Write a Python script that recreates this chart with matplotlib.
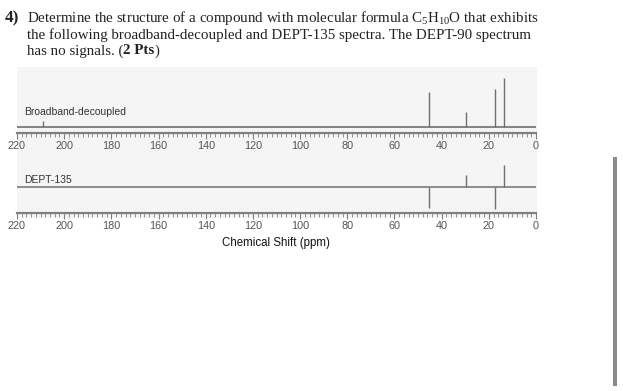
import matplotlib
matplotlib.use("Agg")
import matplotlib.pyplot as plt
from matplotlib.patches import Rectangle

W, H = 623, 391
SERIF = 'Liberation Serif'
plt.rcParams['mathtext.fontset'] = 'custom'
plt.rcParams['mathtext.rm'] = SERIF
plt.rcParams['mathtext.it'] = SERIF

# ---- data ----
bb_ppm = [208.8, 45.2, 29.8, 17.3, 13.7]
bb_int = [6, 35, 15, 38, 49]
dept_ppm = [45.2, 29.8, 17.3, 13.7]
dept_int = [-21, 12, -22, 22]
tick_vals = [220, 200, 180, 160, 140, 120, 100, 80, 60, 40, 20, 0]
title_lines = [
    "Determine the structure of a compound with molecular formula C$_5$H$_{10}$O that exhibits",
    "the following broadband-decoupled and DEPT-135 spectra. The DEPT-90 spectrum",
    "has no signals. (",
]

fig = plt.figure(figsize=(W / 100, H / 100), dpi=100)
fig.patch.set_facecolor('white')

def fx(px):
    return px / W

def fy(py):
    return 1 - py / H

# panel background
fig.patches.append(Rectangle((fx(17), fy(218)), fx(537) - fx(17), fy(67) - fy(218),
                             transform=fig.transFigure, facecolor='#f5f5f5',
                             edgecolor='none', zorder=-5))

line_col = '#707070'
ruler_col = '#808080'

def make_axes(top, bottom, ylim):
    ax = fig.add_axes([fx(17), fy(bottom), fx(536) - fx(17), fy(top) - fy(bottom)])
    ax.set_facecolor('none')
    ax.set_xlim(220, 0)
    ax.set_ylim(*ylim)
    for s in ['top', 'left', 'right']:
        ax.spines[s].set_visible(False)
    ax.spines['bottom'].set_color(ruler_col)
    ax.spines['bottom'].set_linewidth(1.6)
    ax.set_yticks([])
    ax.set_xticks(tick_vals)
    ax.set_xticklabels([str(t) for t in tick_vals], fontsize=7.8,
                       color='#555555', family='Liberation Sans')
    ax.set_xticks(range(0, 221, 2), minor=True)
    ax.tick_params(axis='x', which='major', direction='out', length=4,
                   width=0.8, color=ruler_col, pad=2)
    ax.tick_params(axis='x', which='minor', direction='out', length=3,
                   width=0.6, color=ruler_col)
    return ax

ax1 = make_axes(70, 133, (-6, 57))
ax1.axhline(0, color=line_col, lw=1.2)
ax1.vlines(bb_ppm, 0, bb_int, color=line_col, lw=1.0)
ax1.text(217, 15, "Broadband-decoupled", fontsize=7.5, color='#333333',
         family='Liberation Sans', va='center', ha='left')

ax2 = make_axes(150, 213, (-26, 37))
ax2.axhline(0, color=line_col, lw=1.1)
ax2.vlines(dept_ppm, 0, dept_int, color=line_col, lw=1.0)
ax2.text(217, 7, "DEPT-135", fontsize=7.5, color='#333333',
         family='Liberation Sans', va='center', ha='left')

fig.text(fx(276), fy(243), "Chemical Shift (ppm)", fontsize=8.3, color='#111111',
         family='Liberation Sans', ha='center', va='center')

# title text, size fitted so line 1 spans x=27..537
r = fig.canvas.get_renderer()
probe = fig.text(0, 0, title_lines[0], fontsize=10, family=SERIF, alpha=0)
pw = probe.get_window_extent(renderer=r).width
probe.remove()
tfs = 10 * 510 / pw

fig.text(fx(5), fy(18), "4)", fontsize=tfs * 1.15, fontweight='bold', color='#222222',
         family=SERIF, ha='left', va='center')
ys = [18, 35, 51]
for t, y in zip(title_lines, ys):
    fig.text(fx(27), fy(y), t, fontsize=tfs, color='#222222', family=SERIF,
             ha='left', va='center')
tmp = fig.text(fx(27), fy(51), title_lines[2], fontsize=tfs, family=SERIF,
               ha='left', va='center', alpha=0)
bb = tmp.get_window_extent(renderer=r)
x2 = bb.x1 / fig.dpi / fig.get_figwidth()
fig.text(x2, fy(51), "2 Pts", fontsize=tfs, fontweight='bold', color='#222222',
         family=SERIF, ha='left', va='center')
tmp2 = fig.text(x2, fy(51), "2 Pts", fontsize=tfs, fontweight='bold',
                family=SERIF, ha='left', va='center', alpha=0)
bb2 = tmp2.get_window_extent(renderer=r)
fig.text(bb2.x1 / fig.dpi / fig.get_figwidth(), fy(51), ")", fontsize=tfs,
         color='#222222', family=SERIF, ha='left', va='center')

# scrollbar
fig.patches.append(Rectangle((fx(613), fy(386)), fx(4), fy(157) - fy(386),
                             transform=fig.transFigure, facecolor='#8a8a8a',
                             edgecolor='none'))

fig.savefig("out.png", dpi=100)
